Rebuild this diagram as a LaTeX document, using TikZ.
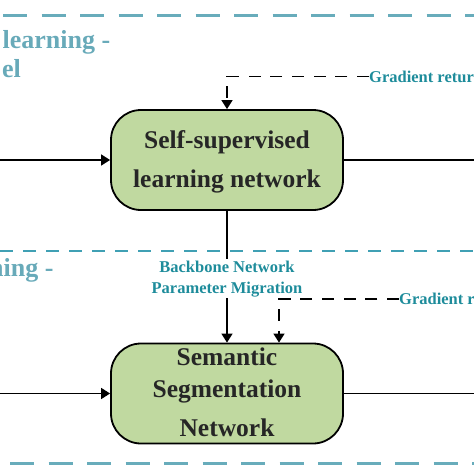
\documentclass[tikz,border=0pt]{standalone}
\usepackage{fontspec}
\setmainfont{Liberation Serif}
\usetikzlibrary{arrows.meta}
\definecolor{bandteal}{RGB}{104,172,187}
\definecolor{midteal}{RGB}{64,160,180}
\definecolor{bigteal}{RGB}{104,170,185}
\definecolor{lblteal}{RGB}{30,140,155}
\definecolor{boxgreen}{RGB}{192,217,160}
\tikzset{
  netbox/.style={draw=black, line width=1.8pt, fill=boxgreen, rounded corners=30pt,
    minimum width=232pt, minimum height=100pt, inner sep=0pt},
  boxtxt/.style={font=\fontsize{25.5}{30}\selectfont\bfseries, text=black!85, anchor=base, inner sep=0pt},
  bandtxt/.style={font=\fontsize{26}{30}\selectfont\bfseries, text=bigteal, anchor=base west, inner sep=0pt},
  gradtxt/.style={font=\fontsize{16.5}{19}\selectfont\bfseries, text=lblteal, anchor=base west, inner sep=0pt},
  flow/.style={line width=1.5pt, -{Triangle[length=9pt,width=11pt]}},
  plain/.style={line width=1.5pt},
  fb/.style={line width=1.5pt, dash pattern=on 12pt off 9.7pt, -{Triangle[length=9pt,width=11pt]}},
  band/.style={line width=3pt, bandteal, dash pattern=on 24pt off 14.5pt},
  midband/.style={line width=2.2pt, midteal, dash pattern=on 13pt off 10pt},
}
\begin{document}
\begin{tikzpicture}[x=1pt,y=-1pt]
\useasboundingbox (0,0) rectangle (474,474);
\clip (0,0) rectangle (474,474);
% band separators
\draw[band] (3,15) -- (474,15);
\draw[midband] (0,251) -- (474,251);
\draw[band, dash phase=-10pt] (0,463) -- (474,463);
% band titles
\node[bandtxt] (t1) at (2.4,48) {learning -};
\node[bandtxt] (t2) at (2,77) {el};
\node[bandtxt] (t3) at (-11,276) {ning -};
% boxes
\node[netbox] (box1) at (227,160) {};
\node[netbox] (box2) at (227,393.5) {};
\node[boxtxt] (b1a) at (227,148) {Self-supervised};
\node[boxtxt] (b1b) at (227,187) {learning network};
\node[boxtxt] (b2a) at (227,365) {Semantic};
\node[boxtxt] (b2b) at (227,397) {Segmentation};
\node[boxtxt] (b2c) at (227,436) {Network};
% inputs / outputs
\coordinate (in1) at (0,160);
\coordinate (out1) at (474,160);
\coordinate (in2) at (0,393.5);
\coordinate (out2) at (474,393.5);
\draw[flow] (in1) -- (box1.west);
\draw[plain] (box1.east) -- (out1);
\draw[flow] (in2) -- (box2.west);
\draw[plain] (box2.east) -- (out2);
% migration
\node[font=\fontsize{16.5}{21}\selectfont\bfseries, text=lblteal, align=center, inner sep=1.5pt]
  (mig) at (227,278.6) {Backbone Network\\Parameter Migration};
\draw[plain] (box1.south) -- (mig.north);
\draw[flow] (mig.south) -- (box2.north);
% gradient returns
\node[gradtxt] (g1) at (369,82) {Gradient retur};
\draw[fb] (g1.west) -| (box1.north);
\node[gradtxt] (g2) at (399,304.5) {Gradient r};
\coordinate (g2x) at (279,0);
\draw[fb] (g2.west) -| (box2.north -| g2x);
\end{tikzpicture}
\end{document}
